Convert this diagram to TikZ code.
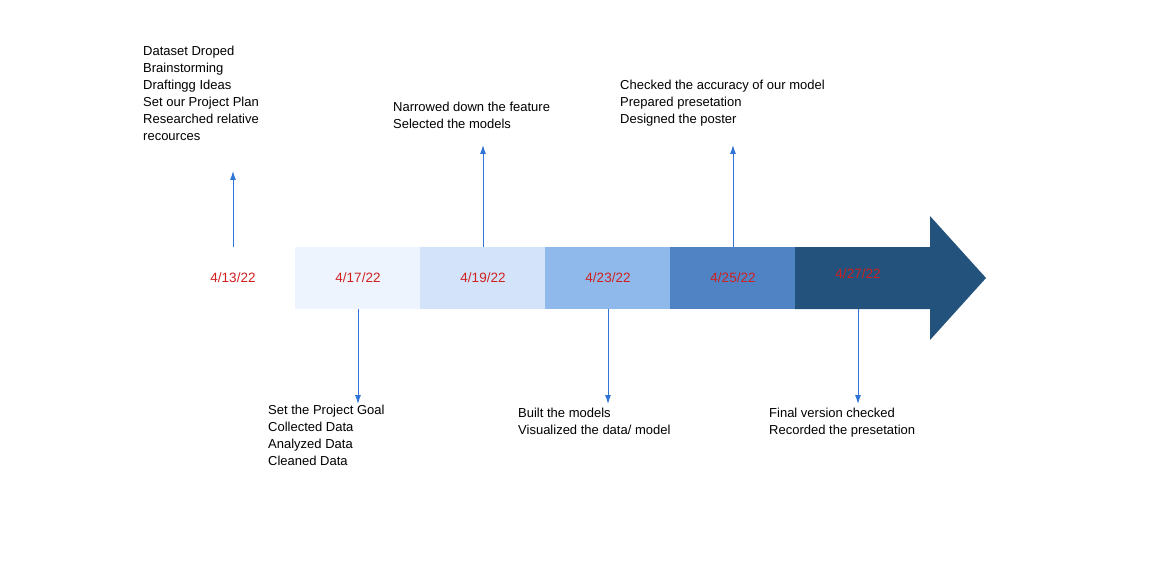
\documentclass[tikz,border=0pt]{standalone}
\usepackage{fontspec}
\setmainfont{Liberation Sans}
\begin{document}
\begin{tikzpicture}[x=1pt,y=-1pt,
  seg/.style={draw=none,minimum width=125pt,minimum height=62pt,inner sep=0pt,anchor=west},
  date/.style={text=datered,font=\fontsize{13.5}{16}\selectfont},
  lbl/.style={anchor=north west,align=left,inner sep=0pt,font=\fontsize{13}{17}\selectfont},
  arr/.style={draw=arrblue,line width=1pt,-{Latex[length=9pt,width=6pt]}}]
\usetikzlibrary{arrows.meta}
\definecolor{datered}{HTML}{D0201F}
\definecolor{arrblue}{HTML}{2F74D6}
\useasboundingbox (0,0) rectangle (1166,572);
\fill[white] (0,0) rectangle (1166,572);
\node[seg,fill={rgb,255:red,238;green,244;blue,253}] (s1) at (295,278) {};
\node[seg,fill={rgb,255:red,211;green,228;blue,250}] (s2) at (420,278) {};
\node[seg,fill={rgb,255:red,143;green,185;blue,234}] (s3) at (545,278) {};
\node[seg,fill={rgb,255:red,80;green,131;blue,196}] (s4) at (670,278) {};
\fill[fill={rgb,255:red,35;green,82;blue,124}] (795,247) -- (930,247) -- (930,216) -- (986,278) -- (930,340) -- (930,309) -- (795,309) -- cycle;
\node[date] (d1) at (233,278) {4/13/22};
\node[date] (d2) at (358,278) {4/17/22};
\node[date] (d3) at (483,278) {4/19/22};
\node[date] (d4) at (608,278) {4/23/22};
\node[date] (d5) at (733,278) {4/25/22};
\node[date] (d6) at (858,274) {4/27/22};
\coordinate (u1s) at (233,247); \coordinate (u1e) at (233,171);
\coordinate (u2s) at (483,247); \coordinate (u2e) at (483,145);
\coordinate (u3s) at (733,247); \coordinate (u3e) at (733,145);
\coordinate (l1s) at (358,309); \coordinate (l1e) at (358,404);
\coordinate (l2s) at (608,309); \coordinate (l2e) at (608,404);
\coordinate (l3s) at (858,309); \coordinate (l3e) at (858,404);
\foreach \a/\b in {u1s/u1e,u2s/u2e,u3s/u3e,l1s/l1e,l2s/l2e,l3s/l3e} \draw[arr] (\a) -- (\b);
\node[lbl] (t1) at (143,46) {Dataset Droped\\Brainstorming\\Draftingg Ideas\\Set our Project Plan\\Researched relative\\recources};
\node[lbl] (t2) at (393,102) {Narrowed down the feature\\Selected the models};
\node[lbl] (t3) at (620,80) {Checked the accuracy of our model\\Prepared presetation\\Designed the poster};
\node[lbl] (b1) at (268,405) {Set the Project Goal\\Collected Data\\Analyzed Data\\Cleaned Data};
\node[lbl] (b2) at (518,408) {Built the models\\Visualized the data/ model};
\node[lbl] (b3) at (769,408) {Final version checked\\Recorded the presetation};
\end{tikzpicture}
\end{document}
